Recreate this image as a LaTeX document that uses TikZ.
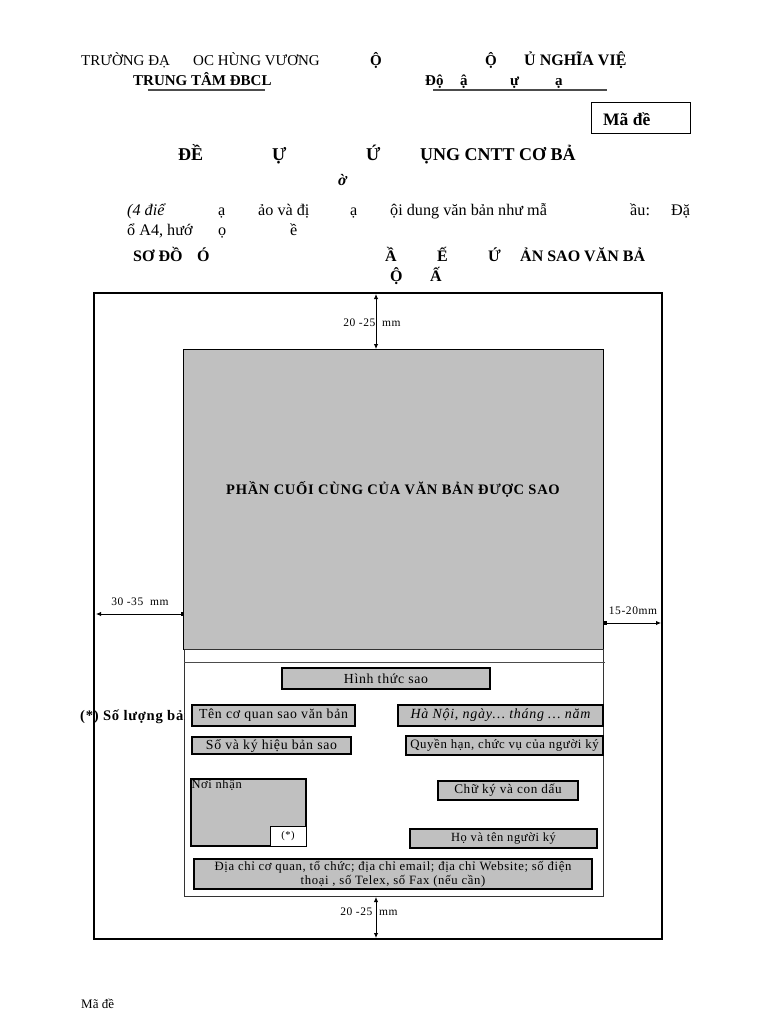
\documentclass[tikz,border=0pt]{standalone}
\usepackage{fontspec}
\setmainfont{Liberation Serif}
\newfontfamily\boxf[LetterSpace=5]{Liberation Serif}
\usetikzlibrary{arrows.meta}
\definecolor{boxgray}{HTML}{C0C0C0}
\begin{document}
\begin{tikzpicture}[x=1pt,y=-1pt,
  txt/.style={anchor=base west,inner sep=0pt,font=\fontsize{15}{18}\selectfont},
  btxt/.style={anchor=base west,inner sep=0pt,font=\fontsize{15}{18}\selectfont\bfseries},
  ttl/.style={anchor=base west,inner sep=0pt,font=\fontsize{18}{21}\selectfont\bfseries},
  sub/.style={anchor=base west,inner sep=0pt,font=\fontsize{16}{19}\selectfont\bfseries},
  body/.style={anchor=base west,inner sep=0pt,font=\fontsize{16.2}{19}\selectfont},
  gbox/.style={draw=black,line width=1.4pt,fill=boxgray,inner sep=0pt,font=\boxf\fontsize{13.8}{15}\selectfont},
  dim/.style={inner sep=0pt,font=\boxf\fontsize{11.5}{12}\selectfont},
  dimarrow/.style={line width=0.9pt,{Latex[length=5pt,width=4.5pt]}-{Latex[length=5pt,width=4.5pt]}},
  sidearrow/.style={line width=0.9pt,{Square[length=2.5pt,width=4pt]}-{Latex[length=5pt,width=4.5pt]}}
]
\useasboundingbox (0,0) rectangle (768,1024);
\fill[white] (0,0) rectangle (768,1024);
% header
\node[txt] (h1) at (81,66) {TRƯỜNG ĐẠ};
\node[txt] (h2) at (193,66) {OC HÙNG VƯƠNG};
\node[btxt] (h3) at (370,66) {Ộ};
\node[btxt] (h4) at (485,66) {Ộ};
\node[btxt,font=\fontsize{16}{18}\selectfont\bfseries] (h5) at (524,66) {Ủ NGHĨA VIỆ};
\node[btxt] (h6) at (133,86) {TRUNG TÂM ĐBCL};
\node[btxt] (h7) at (425,86) {Độ};
\node[btxt] (h8) at (460,86) {ậ};
\node[btxt] (h9) at (510,86) {ự};
\node[btxt] (h10) at (555,86) {ạ};
\draw[line width=1.2pt,black!70] (148,90) -- (265,90);
\draw[line width=1.2pt,black!70] (433,90) -- (607,90);
\node[draw,line width=1pt,minimum width=99,minimum height=31,inner sep=0pt] (ma) at (640.5,118.5) {};
\node[btxt,font=\fontsize{17.5}{20}\selectfont\bfseries] (matx) at (603,126) {Mã đề};
% title
\node[ttl] (t1) at (178,161) {ĐỀ};
\node[ttl] (t2) at (272,161) {Ự};
\node[ttl] (t3) at (366,161) {Ứ};
\node[ttl] (t4) at (420,161) {ỤNG CNTT CƠ BẢ};
\node[ttl,font=\fontsize{16}{19}\selectfont\bfseries\itshape] (t5) at (338,186) {ờ};
\node[body,font=\fontsize{16.2}{19}\selectfont\itshape] (b1) at (127,216) {(4 điể};
\node[body] (b2) at (218,216) {ạ};
\node[body] (b3) at (258,216) {ảo và đị};
\node[body] (b4) at (350,216) {ạ};
\node[body] (b5) at (390,216) {ội dung văn bản như mẫ};
\node[body] (b6) at (630,216) {ầu:};
\node[body] (b7) at (671,216) {Đặ};
\node[body] (c1) at (127,236) {ổ A4, hướ};
\node[body] (c2) at (218,236) {ọ};
\node[body] (c3) at (290,236) {ề};
\node[sub] (s1) at (133,261) {SƠ ĐỒ};
\node[sub] (s2) at (197,261) {Ó};
\node[sub] (s3) at (385,261) {Ầ};
\node[sub] (s4) at (437,261) {Ế};
\node[sub] (s5) at (488,261) {Ứ};
\node[sub] (s6) at (520,261) {ẢN SAO VĂN BẢ};
\node[sub] (s7) at (390,281) {Ộ};
\node[sub] (s8) at (430,281) {Ấ};
% diagram
\draw[line width=2pt] (94,293) rectangle (662,939);
\draw[line width=1pt,fill=boxgray] (183,349) rectangle (603,649);
\node[inner sep=0pt,font=\boxf\fontsize{14.5}{16}\selectfont\bfseries] (main) at (393,489) {PHẦN CUỐI CÙNG CỦA VĂN BẢN ĐƯỢC SAO};
\draw[line width=1pt,black!80] (184,649) rectangle (603,896);
\draw[line width=0.8pt,black!70] (184,662) -- (605,662);
\coordinate (top1) at (376,294);
\coordinate (top2) at (376,349);
\coordinate (bot1) at (376,897);
\coordinate (bot2) at (376,938);
\coordinate (l1) at (183,614);
\coordinate (l2) at (96,614);
\coordinate (r1) at (604,623);
\coordinate (r2) at (661,623);
\node[dim] (dt) at (372,323) {20 -25 \ mm};
\node[dim] (db) at (369,912) {20 -25 \ mm};
\node[dim] (dl) at (140,602) {30 -35 \ mm};
\node[dim] (dr) at (633,611) {15-20mm};
\draw[dimarrow] (top1) -- (top2);
\draw[dimarrow] (bot1) -- (bot2);
\draw[sidearrow] (l1) -- (l2);
\draw[sidearrow] (r1) -- (r2);
% lower part
\begin{scope}
\clip (70,700) rectangle (184.5,730);
\node[anchor=base west,inner sep=0pt,font=\boxf\fontsize{14.6}{15}\selectfont\bfseries] (sl) at (80,720) {(*) Số lượng bản};
\end{scope}
\node[gbox,minimum width=208,minimum height=21] (hts) at (386,678.5) {Hình thức sao};
\node[gbox,minimum width=163,minimum height=21] (ten) at (273.5,715.5) {Tên cơ quan sao văn bản};
\node[gbox,minimum width=205,minimum height=21,font=\boxf\fontsize{14}{15}\selectfont\itshape] (hn) at (500.5,715.5) {Hà Nội, ngày… tháng … năm};
\node[gbox,minimum width=159,minimum height=17] (so) at (271.5,745.5) {Số và ký hiệu bản sao};
\node[gbox,minimum width=197,minimum height=19,font=\boxf\fontsize{12.8}{14}\selectfont] (qh) at (504.5,745.5) {Quyền hạn, chức vụ của người ký};
\node[gbox,minimum width=115,minimum height=67] (nn) at (248.5,812.5) {};
\node[anchor=north west,inner sep=1pt,font=\boxf\fontsize{12.5}{14}\selectfont] (nntx) at (nn.north west) {Nơi nhận};
\node[draw=black,line width=1pt,fill=white,minimum width=36,minimum height=20,inner sep=0pt,font=\boxf\fontsize{10.5}{11}\selectfont] (star) at (288,836) {(*)};
\node[gbox,minimum width=140,minimum height=19,font=\boxf\fontsize{13.2}{14}\selectfont] (ck) at (508,790.5) {Chữ ký và con dấu};
\node[gbox,minimum width=187,minimum height=19,font=\boxf\fontsize{12.5}{14}\selectfont] (ht) at (503.5,838.5) {Họ và tên người ký};
\node[gbox,minimum width=398,minimum height=30,align=center,font=\boxf\fontsize{12.7}{13.5}\selectfont] (dc) at (393,874) {Địa chỉ cơ quan, tổ chức; địa chỉ email; địa chỉ Website; số điện\\thoại , số Telex, số Fax (nếu cần)};
% footer
\node[anchor=base west,inner sep=0pt,font=\fontsize{13}{15}\selectfont] (ft) at (81,1008) {Mã đề};
\end{tikzpicture}
\end{document}
